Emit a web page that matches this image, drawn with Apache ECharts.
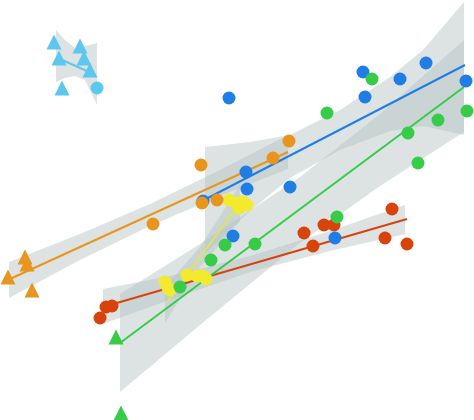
<!DOCTYPE html>
<html>
<head>
<meta charset="utf-8">
<script src="https://cdn.jsdelivr.net/npm/echarts@6/dist/echarts.min.js"></script>
<style>html,body{margin:0;padding:0;background:#fff}#c{width:474px;height:420px}</style>
</head>
<body>
<div id="c"></div>
<script>
// ---- Light blue group ----
const lbTriangles = [[5.4,37.8],[8.0,37.4],[5.9,36.2],[8.4,36.2],[9.0,35.0],[6.2,33.2]];
const lbCircles = [[9.7,33.2]];
const lbLine = [[6.2,36.0],[8.7,34.9]];
const lbBandX = [5.6,6.5,7.5,8.5,9.7];
const lbBandUpper = [39.0,38.0,37.2,37.4,37.7];
const lbBandLower = [33.8,34.2,34.4,34.0,31.5];

// ---- Orange group ----
const orTriangles = [[0.8,14.3],[2.5,16.3],[2.7,15.6],[3.2,13.0]];
const orCircles = [[15.3,19.6],[20.1,25.5],[20.2,21.7],[21.7,22.0],[27.3,26.2],[28.9,27.9]];
const orLine = [[1.0,14.1],[28.8,26.8]];
const orBandX = [0.9,8.0,15.0,22.0,28.8];
const orBandUpper = [15.8,18.6,21.6,25.0,28.5];
const orBandLower = [12.2,16.0,19.4,22.4,25.1];

// ---- Blue group ----
const blCircles = [[22.9,32.2],[36.3,34.8],[40.0,34.1],[42.6,35.7],[46.6,33.9],[36.5,32.3],
  [24.6,24.8],[24.7,23.1],[29.0,23.3],[20.3,21.9],[23.3,18.4],[33.5,18.2]];
const blLine = [[20.4,22.0],[46.5,35.5]];
const blBandX = [20.5,25.0,29.0,34.0,39.0,42.3,46.4];
const blBandUpper = [27.3,27.8,28.5,31.0,34.3,37.0,41.8];
const blBandLower = [16.7,20.9,24.2,27.0,28.9,29.4,28.5];

// ---- Green group ----
const grCircles = [[37.2,34.1],[32.7,30.7],[46.7,30.9],[43.8,30.0],[40.8,28.7],[41.8,25.7],
  [33.7,20.3],[25.5,17.6],[22.5,17.5],[21.1,16.0],[18.0,13.3]];
const grTriangles = [[11.6,8.3],[12.1,0.7]];
const grLine = [[12.0,7.7],[46.4,33.3]];
const grBandX = [12.0,20.0,30.0,38.0,46.4];
const grBandUpper = [12.6,17.6,24.3,30.6,38.0];
const grBandLower = [2.8,9.5,17.7,23.4,28.8];

// ---- Red group ----
const rdCircles = [[10.0,10.2],[10.6,11.3],[11.2,11.4],[30.4,18.7],[32.4,19.5],[33.4,19.5],
  [31.3,17.4],[38.5,18.2],[39.2,21.1],[40.7,17.6]];
const rdLine = [[10.3,11.3],[40.7,20.1]];
const rdBandX = [10.3,18.0,25.0,33.0,40.5];
const rdBandUpper = [13.1,14.6,16.4,18.9,21.5];
const rdBandLower = [9.6,12.4,14.8,16.9,18.6];

// ---- Yellow group ----
const ylCircles = [[16.5,13.8],[16.8,13.2],[17.0,13.0],[18.7,14.5],[19.7,14.4],[20.3,14.4],[20.6,14.1],
  [22.9,22.0],[23.6,21.7],[24.3,21.8],[24.7,21.5],[23.9,21.2]];
const ylLine = [[16.7,11.8],[23.7,21.3]];
const ylBandX = [16.5,20.0,24.0];
const ylBandUpper = [13.3,17.3,23.5];
const ylBandLower = [9.7,15.3,19.9];

const C = {lb:'#5cc8ef', or:'#e8951d', bl:'#1f7de6', gr:'#36cc47', rd:'#d8430c', yl:'#f2ea2c', ylLine:'#dfe45c'};
const bandFill = 'rgba(180,192,192,0.45)';

function band(xs, up, lo) {
  return {
    type: 'custom', silent: true, z: 1, clip: false,
    data: [[xs[0], up[0]]],
    renderItem: function (params, api) {
      const top = xs.map((x, i) => api.coord([x, up[i]]));
      const bot = xs.map((x, i) => api.coord([x, lo[i]])).reverse();
      return { type: 'polygon', shape: { points: top.concat(bot) }, style: { fill: bandFill } };
    }
  };
}
function line(d, color, w) {
  return { type: 'line', data: d, showSymbol: false, symbol: 'none', z: 2, silent: true,
    lineStyle: { color: color, width: w || 2 } };
}
function pts(d, color, sym, size) {
  return { type: 'scatter', data: d, symbol: sym, symbolSize: size, z: 3, silent: true,
    itemStyle: { color: color, opacity: 1 } };
}

const chart = echarts.init(document.getElementById('c'));
chart.setOption({
  animation: false,
  backgroundColor: '#ffffff',
  grid: { left: 0, right: 0, top: 0, bottom: 0 },
  xAxis: { type: 'value', min: 0, max: 47.4, show: false },
  yAxis: { type: 'value', min: 0, max: 42, show: false },
  series: [
    band(lbBandX, lbBandUpper, lbBandLower),
    band(orBandX, orBandUpper, orBandLower),
    band(blBandX, blBandUpper, blBandLower),
    band(grBandX, grBandUpper, grBandLower),
    band(rdBandX, rdBandUpper, rdBandLower),
    band(ylBandX, ylBandUpper, ylBandLower),
    line(lbLine, C.lb), line(rdLine, C.rd), line(ylLine, C.ylLine),
    line(grLine, C.gr), line(orLine, C.or), line(blLine, C.bl),
    pts(lbTriangles, C.lb, 'triangle', 15), pts(lbCircles, C.lb, 'circle', 13),
    pts(rdCircles, C.rd, 'circle', 13),
    pts(ylCircles, C.yl, 'circle', 13),
    pts(blCircles, C.bl, 'circle', 13),
    pts(grCircles, C.gr, 'circle', 13), pts(grTriangles, C.gr, 'triangle', 15),
    pts(orTriangles, C.or, 'triangle', 15), pts(orCircles, C.or, 'circle', 13)
  ]
});
</script>
</body>
</html>
